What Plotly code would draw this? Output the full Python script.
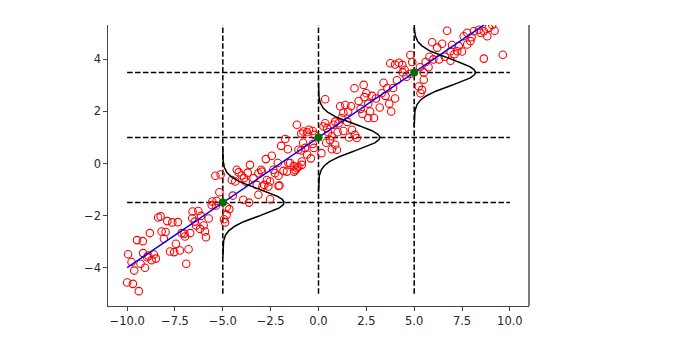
import numpy as np
import plotly.graph_objects as go

# ---- data ----
scatter_x = [
    -10.0, -9.7, -9.39, -9.95, -9.77, -9.63, -9.3, -9.07, -8.9, -8.6, -8.5, -8.72, -9.48, -9.18, -8.81,
    -8.38, -8.25, -8.2, -7.99, -8.08, -9.16, -8.95,
    -7.9, -7.64, -7.35, -7.45, -7.24, -7.76, -7.54, -7.15, -7.01, -6.79, -6.91, -6.58, -6.28, -6.14,
    -6.46, -6.4, -6.19, -6.0, -6.7, -6.98, -6.6,
    -5.93, -5.88, -5.74, -5.58, -5.36, -5.32, -5.18, -5.39, -5.11, -4.94, -4.88, -4.66, -4.8, -4.48,
    -4.35, -4.53, -4.27, -4.17, -5.55, -4.8,
    -4.01, -3.89, -3.93, -3.63, -3.58, -3.4, -3.23, -3.14, -3.0, -2.93, -2.83, -2.7, -2.62, -2.53,
    -2.36, -2.27, -2.04, -3.14, -2.96, -2.53, -2.09, -2.75, -2.44, -2.13, -3.8, -3.7,
    -1.65, -1.48, -1.27, -1.13, -0.87, -1.13, -1.74, -1.6, -1.95, -1.05, -1.57, -1.83, -2.09, -1.3,
    -1.2, -0.87, -0.79, -1.05, -0.6, -0.3, -0.9, -0.5, -0.2, -0.8, -0.9, -0.6, -0.4, -0.25, -0.7, -0.3,
    0.35, 1.13, 1.4, 1.3, 1.55, 0.87, 1.05, 0.79, 0.35, 0.26, 0.44, 0.5, 0.7, 1.0, 1.3, 1.6, 1.75,
    1.9, 2.0, 0.7, 0.87, 0.96, 0.15, 0.4, 0.6, 1.2, 1.88, 1.7, 1.5,
    2.36, 2.5, 2.2, 2.4, 2.1, 2.6, 2.7, 2.3, 2.8, 3.4, 3.6, 3.5, 3.9, 3.3, 4.0, 3.7, 4.1, 3.8, 2.9,
    3.0, 3.2, 2.6,
    4.8, 3.75, 4.0, 4.38, 4.2, 4.4, 4.6, 4.8, 4.5, 5.24, 5.41, 5.33, 5.5, 5.94, 5.6, 5.8, 6.0, 5.75,
    5.5, 4.9, 5.3,
    6.72, 6.46, 6.98, 7.33, 6.9, 7.25, 7.77, 7.94, 7.59, 7.77, 8.12, 8.47, 8.64, 8.82, 8.9, 8.38,
    8.64, 9.63, 9.08, 6.3, 6.6, 6.9, 7.1, 6.2, 7.5, 8.0, 9.2,
]
scatter_y = [
    -4.57, -4.62, -4.9, -3.48, -3.78, -4.11, -3.85, -4.0, -3.53, -3.49, -3.65, -3.71, -2.94, -2.98, -2.67,
    -2.07, -2.03, -2.61, -2.63, -2.89, -3.44, -3.6,
    -2.21, -2.26, -2.25, -3.08, -3.34, -3.38, -3.4, -2.67, -2.69, -3.29, -3.85, -1.84, -1.82, -2.01,
    -2.23, -2.38, -2.51, -2.38, -2.67, -2.8, -2.1,
    -2.61, -2.83, -2.11, -1.59, -1.61, -1.44, -1.1, -0.47, -0.42, -2.14, -2.26, -1.75, -1.97, -1.23,
    -0.69, -0.63, -0.24, -0.34, -1.46, -1.67,
    -0.46, -0.56, -1.39, -1.5, -0.05, -0.56, -0.82, -0.37, -0.24, -0.88, -0.82, -0.63, -0.88, -1.37,
    -0.24, -0.37, -0.84, -1.2, -0.31, -0.69, -0.47, 0.17, 0.3, 0.02, -0.7, -0.35,
    -0.31, 0.02, -0.31, -0.18, -0.05, 1.49, 0.94, 0.55, 0.68, 0.53, 0.02, -0.28, -0.86, -0.1,
    -0.25, 0.08, 1.23, -0.12, 1.2, 1.25, 1.15, 1.3, 1.1, 0.8, 0.5, 0.35, 0.2, 0.6, 0.6, 0.75,
    2.47, 2.2, 2.25, 1.95, 2.0, 1.61, 1.55, 1.49, 1.55, 1.42, 1.36, 1.2, 1.05, 1.2, 1.25, 1.0, 1.3,
    1.1, 0.98, 0.55, 0.72, 0.53, 0.4, 0.8, 0.9, 1.75, 2.89, 2.2, 1.6,
    3.02, 2.7, 2.1, 2.55, 2.4, 2.3, 2.0, 1.9, 2.6, 3.1, 2.9, 2.6, 2.9, 2.7, 2.5, 2.3, 3.2, 2.0, 1.75,
    2.5, 2.15, 1.75,
    4.17, 3.85, 3.8, 3.79, 3.87, 3.5, 3.33, 3.45, 3.6, 2.96, 2.83, 2.7, 3.22, 4.66, 3.9, 4.1, 4.0, 3.7,
    3.5, 3.9, 3.7,
    5.1, 4.6, 4.55, 4.51, 4.31, 4.31, 4.57, 4.7, 4.89, 5.02, 5.08, 5.02, 5.08, 4.89, 5.21, 5.14,
    4.03, 4.18, 5.32, 4.0, 4.1, 3.95, 4.2, 4.45, 4.3, 4.85, 5.1,
]

line_x = [-10.0, 10.0]
line_y = [-4.0, 6.0]

center_x = [-5.0, 0.0, 5.0]
center_y = [-1.5, 1.0, 3.5]
gauss_sigma = 0.5
gauss_scale = 3.2
gauss_halfspan = 2.1

hline_x = [-10.0, 10.0]
vline_y = [-5.0, 6.0]

x_ticks = [-10.0, -7.5, -5.0, -2.5, 0.0, 2.5, 5.0, 7.5, 10.0]
y_ticks = [-4, -2, 0, 2, 4]
x_range = [-11.0, 11.0]
y_range = [-5.47, 5.32]

fig = go.Figure()

dash_style = dict(color="black", width=1.5, dash="5.5px,2.4px")
for cy in center_y:
    fig.add_trace(go.Scatter(x=hline_x, y=[cy, cy], mode="lines", line=dash_style,
                             showlegend=False, hoverinfo="skip"))
for cx in center_x:
    fig.add_trace(go.Scatter(x=[cx, cx], y=vline_y, mode="lines", line=dash_style,
                             showlegend=False, hoverinfo="skip"))

fig.add_trace(go.Scatter(
    x=scatter_x, y=scatter_y, mode="markers",
    marker=dict(symbol="circle-open", size=7.5, color="red", line=dict(width=1.1)),
    showlegend=False))

fig.add_trace(go.Scatter(x=line_x, y=line_y, mode="lines",
                         line=dict(color="blue", width=1.5), showlegend=False))

for cx, cy in zip(center_x, center_y):
    yy = np.linspace(cy - gauss_halfspan, cy + gauss_halfspan, 300)
    xx = cx + gauss_scale * np.exp(-((yy - cy) ** 2) / (2 * gauss_sigma ** 2))
    fig.add_trace(go.Scatter(x=xx, y=yy, mode="lines",
                             line=dict(color="black", width=1.5), showlegend=False))

fig.add_trace(go.Scatter(x=center_x, y=center_y, mode="markers",
                         marker=dict(color="#007000", size=8), showlegend=False))

axis_font = dict(family="DejaVu Sans", size=11.5, color="#262626")
spine = "#444444"
fig.update_layout(
    width=690, height=345,
    margin=dict(l=108, r=161, t=25, b=39),
    plot_bgcolor="white", paper_bgcolor="white",
    xaxis=dict(range=x_range, tickvals=x_ticks, ticktext=[f"{v:.1f}".replace("-", "\u2212") for v in x_ticks],
               showgrid=False, zeroline=False, showline=True, linecolor=spine, linewidth=1.4,
               ticks="outside", ticklen=3.5, tickwidth=1, tickcolor=spine, tickfont=axis_font),
    yaxis=dict(range=y_range, tickvals=y_ticks, ticktext=[str(v).replace("-", "\u2212") for v in y_ticks],
               showgrid=False, zeroline=False, showline=True, linecolor=spine, linewidth=1.4,
               ticks="outside", ticklen=3.5, tickwidth=1, tickcolor=spine, tickfont=axis_font),
    shapes=[dict(type="line", xref="paper", yref="paper", x0=1, x1=1, y0=0, y1=1,
                 line=dict(color=spine, width=1.4))],
)

fig.write_html("out.html")
